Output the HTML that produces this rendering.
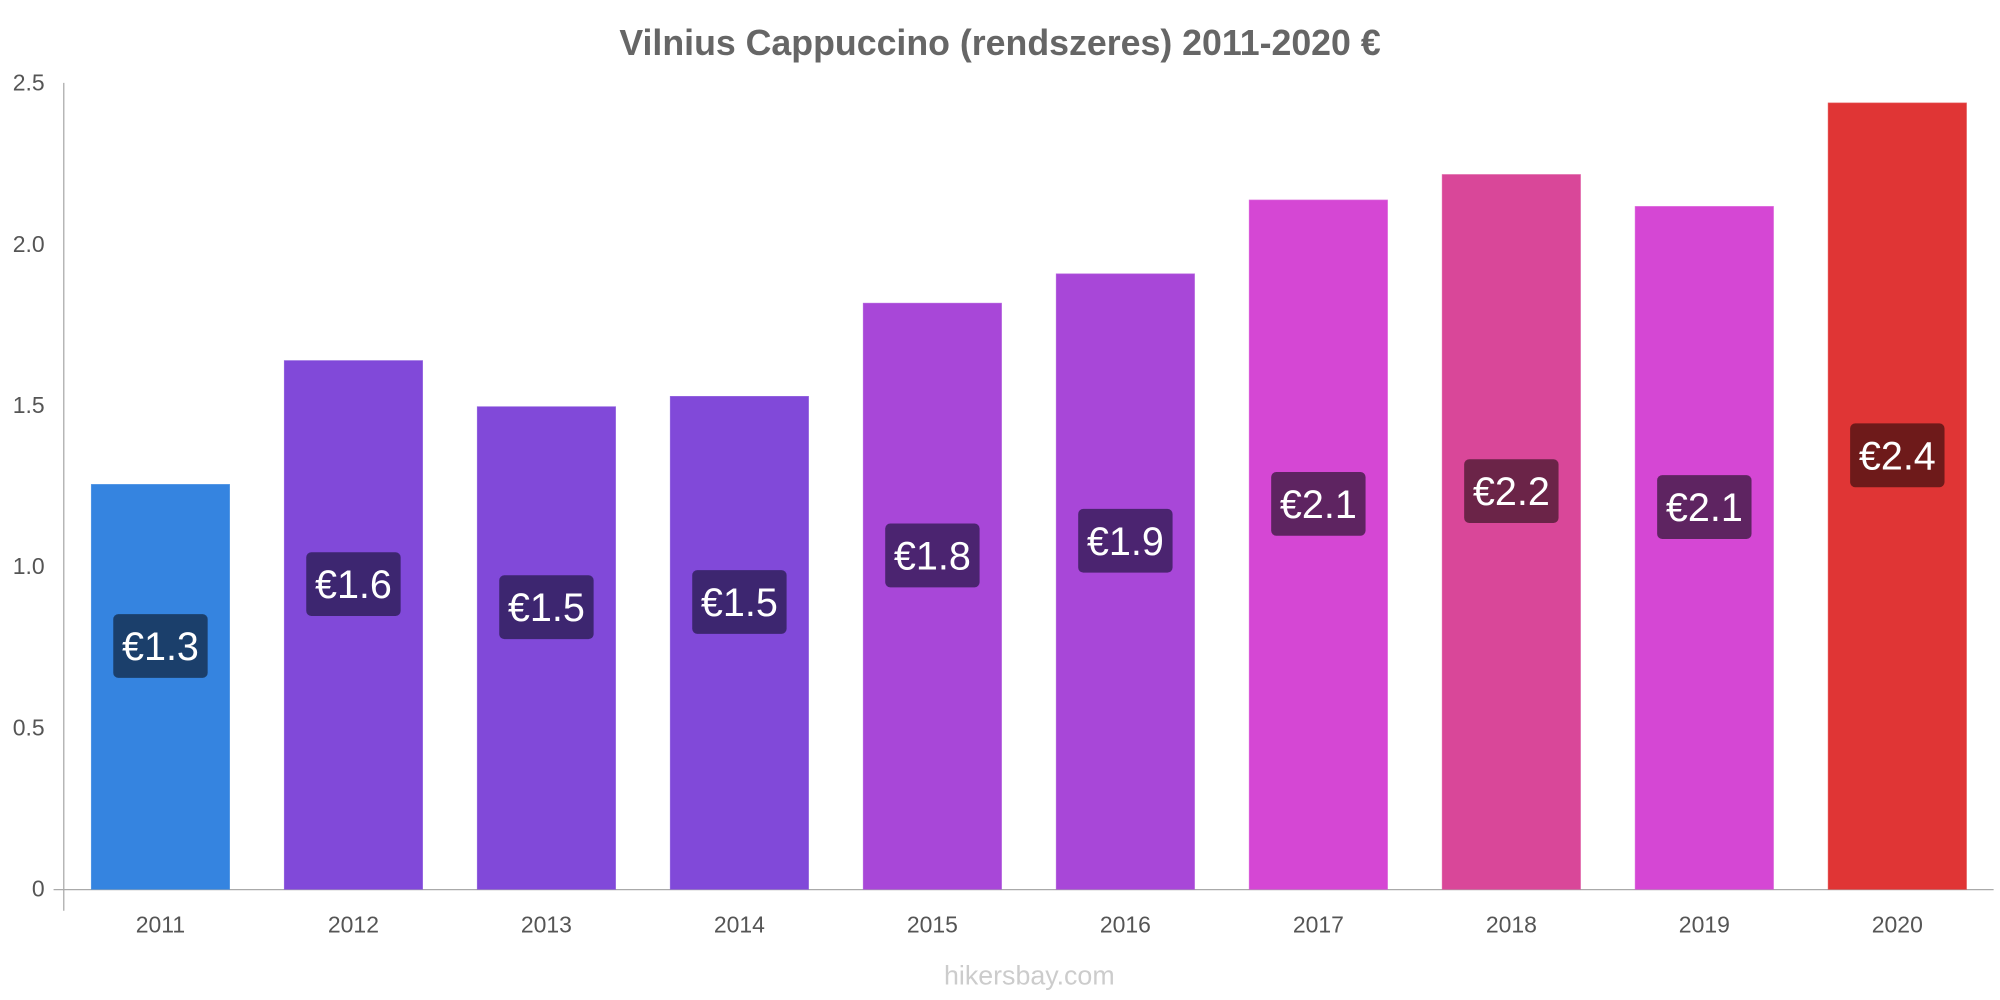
<!DOCTYPE html>
<html><head><meta charset="utf-8"><style>
html,body{margin:0;padding:0;background:#fff;}
svg{display:block;font-family:"Liberation Sans",sans-serif;}
</style></head><body>
<svg id="chart" width="2000" height="1000" viewBox="0 0 1568 784" xmlns="http://www.w3.org/2000/svg">
<text x="784" y="43" text-anchor="middle" font-size="28" font-weight="bold" fill="#666">Vilnius Cappuccino (rendszeres) 2011-2020 €</text>
<g id="axes"></g>
<g id="bars"></g>
<text x="807" y="772" text-anchor="middle" font-size="21" fill="#ccc">hikersbay.com</text>
</svg>
<script>
const categories=["2011","2012","2013","2014","2015","2016","2017","2018","2019","2020"];
const values=[1.254,1.638,1.495,1.527,1.816,1.907,2.136,2.215,2.116,2.437];
const labels=["€1.3","€1.6","€1.5","€1.5","€1.8","€1.9","€2.1","€2.2","€2.1","€2.4"];
const ticks=[0,0.5,1.0,1.5,2.0,2.5];
const tickLabels=["0","0.5","1.0","1.5","2.0","2.5"];
const barColors=["#3584e0","#8149d9","#8149d9","#8149d9","#a847d8","#a847d8","#d547d4","#d94799","#d547d4","#e03535"];
const labelColors=["#1b3f6b","#3d2670","#3d2670","#3d2670","#4b2470","#4b2470","#5e2461","#6b2448","#5e2461","#6e1a1a"];
const NS="http://www.w3.org/2000/svg";
const y0=697,ymax=65,vmax=2.5;
const y=v=>y0-(v/vmax)*(y0-ymax);
const step=151.3,x0=50;
const xc=i=>x0+75.8+i*step;
const bw=108;
function mk(tag,attrs,parent,text){const e=document.createElementNS(NS,tag);for(const k in attrs)e.setAttribute(k,attrs[k]);if(text!==undefined)e.textContent=text;parent.appendChild(e);return e;}
const ax=document.getElementById('axes'),bg=document.getElementById('bars');
let l=mk('line',{x1:50,y1:65,x2:50,y2:714,stroke:'#aaa','stroke-width':1},ax);


l=mk('line',{x1:42,y1:697.5,x2:1563,y2:697.5,stroke:'#aaa','stroke-width':1},ax);


ticks.forEach((t,i)=>{
  const tx=mk('text',{x:35,y:y(t)+6,'text-anchor':'end','font-size':18,fill:'#555'},ax,tickLabels[i]);
  
  
});
categories.forEach((c,i)=>{
  const cx=xc(i),top=y(values[i]);
  const r=mk('rect',{x:cx-bw/2,y:top,width:bw,height:y0-top,fill:barColors[i],stroke:barColors[i],'stroke-opacity':0.8},bg);
  
  
  const t=mk('text',{x:cx,y:731,'text-anchor':'middle','font-size':18,fill:'#555'},ax,c);
  
  
  const ly=(top+y0)/2-32;
  const b=mk('rect',{x:cx-37,y:ly-25,width:74,height:50,rx:4,fill:labelColors[i]},bg);
  
  
  const lt=mk('text',{x:cx,y:ly+11,'text-anchor':'middle','font-size':31,fill:'#fff'},bg,labels[i]);
  
  
});
</script>
</body></html>
